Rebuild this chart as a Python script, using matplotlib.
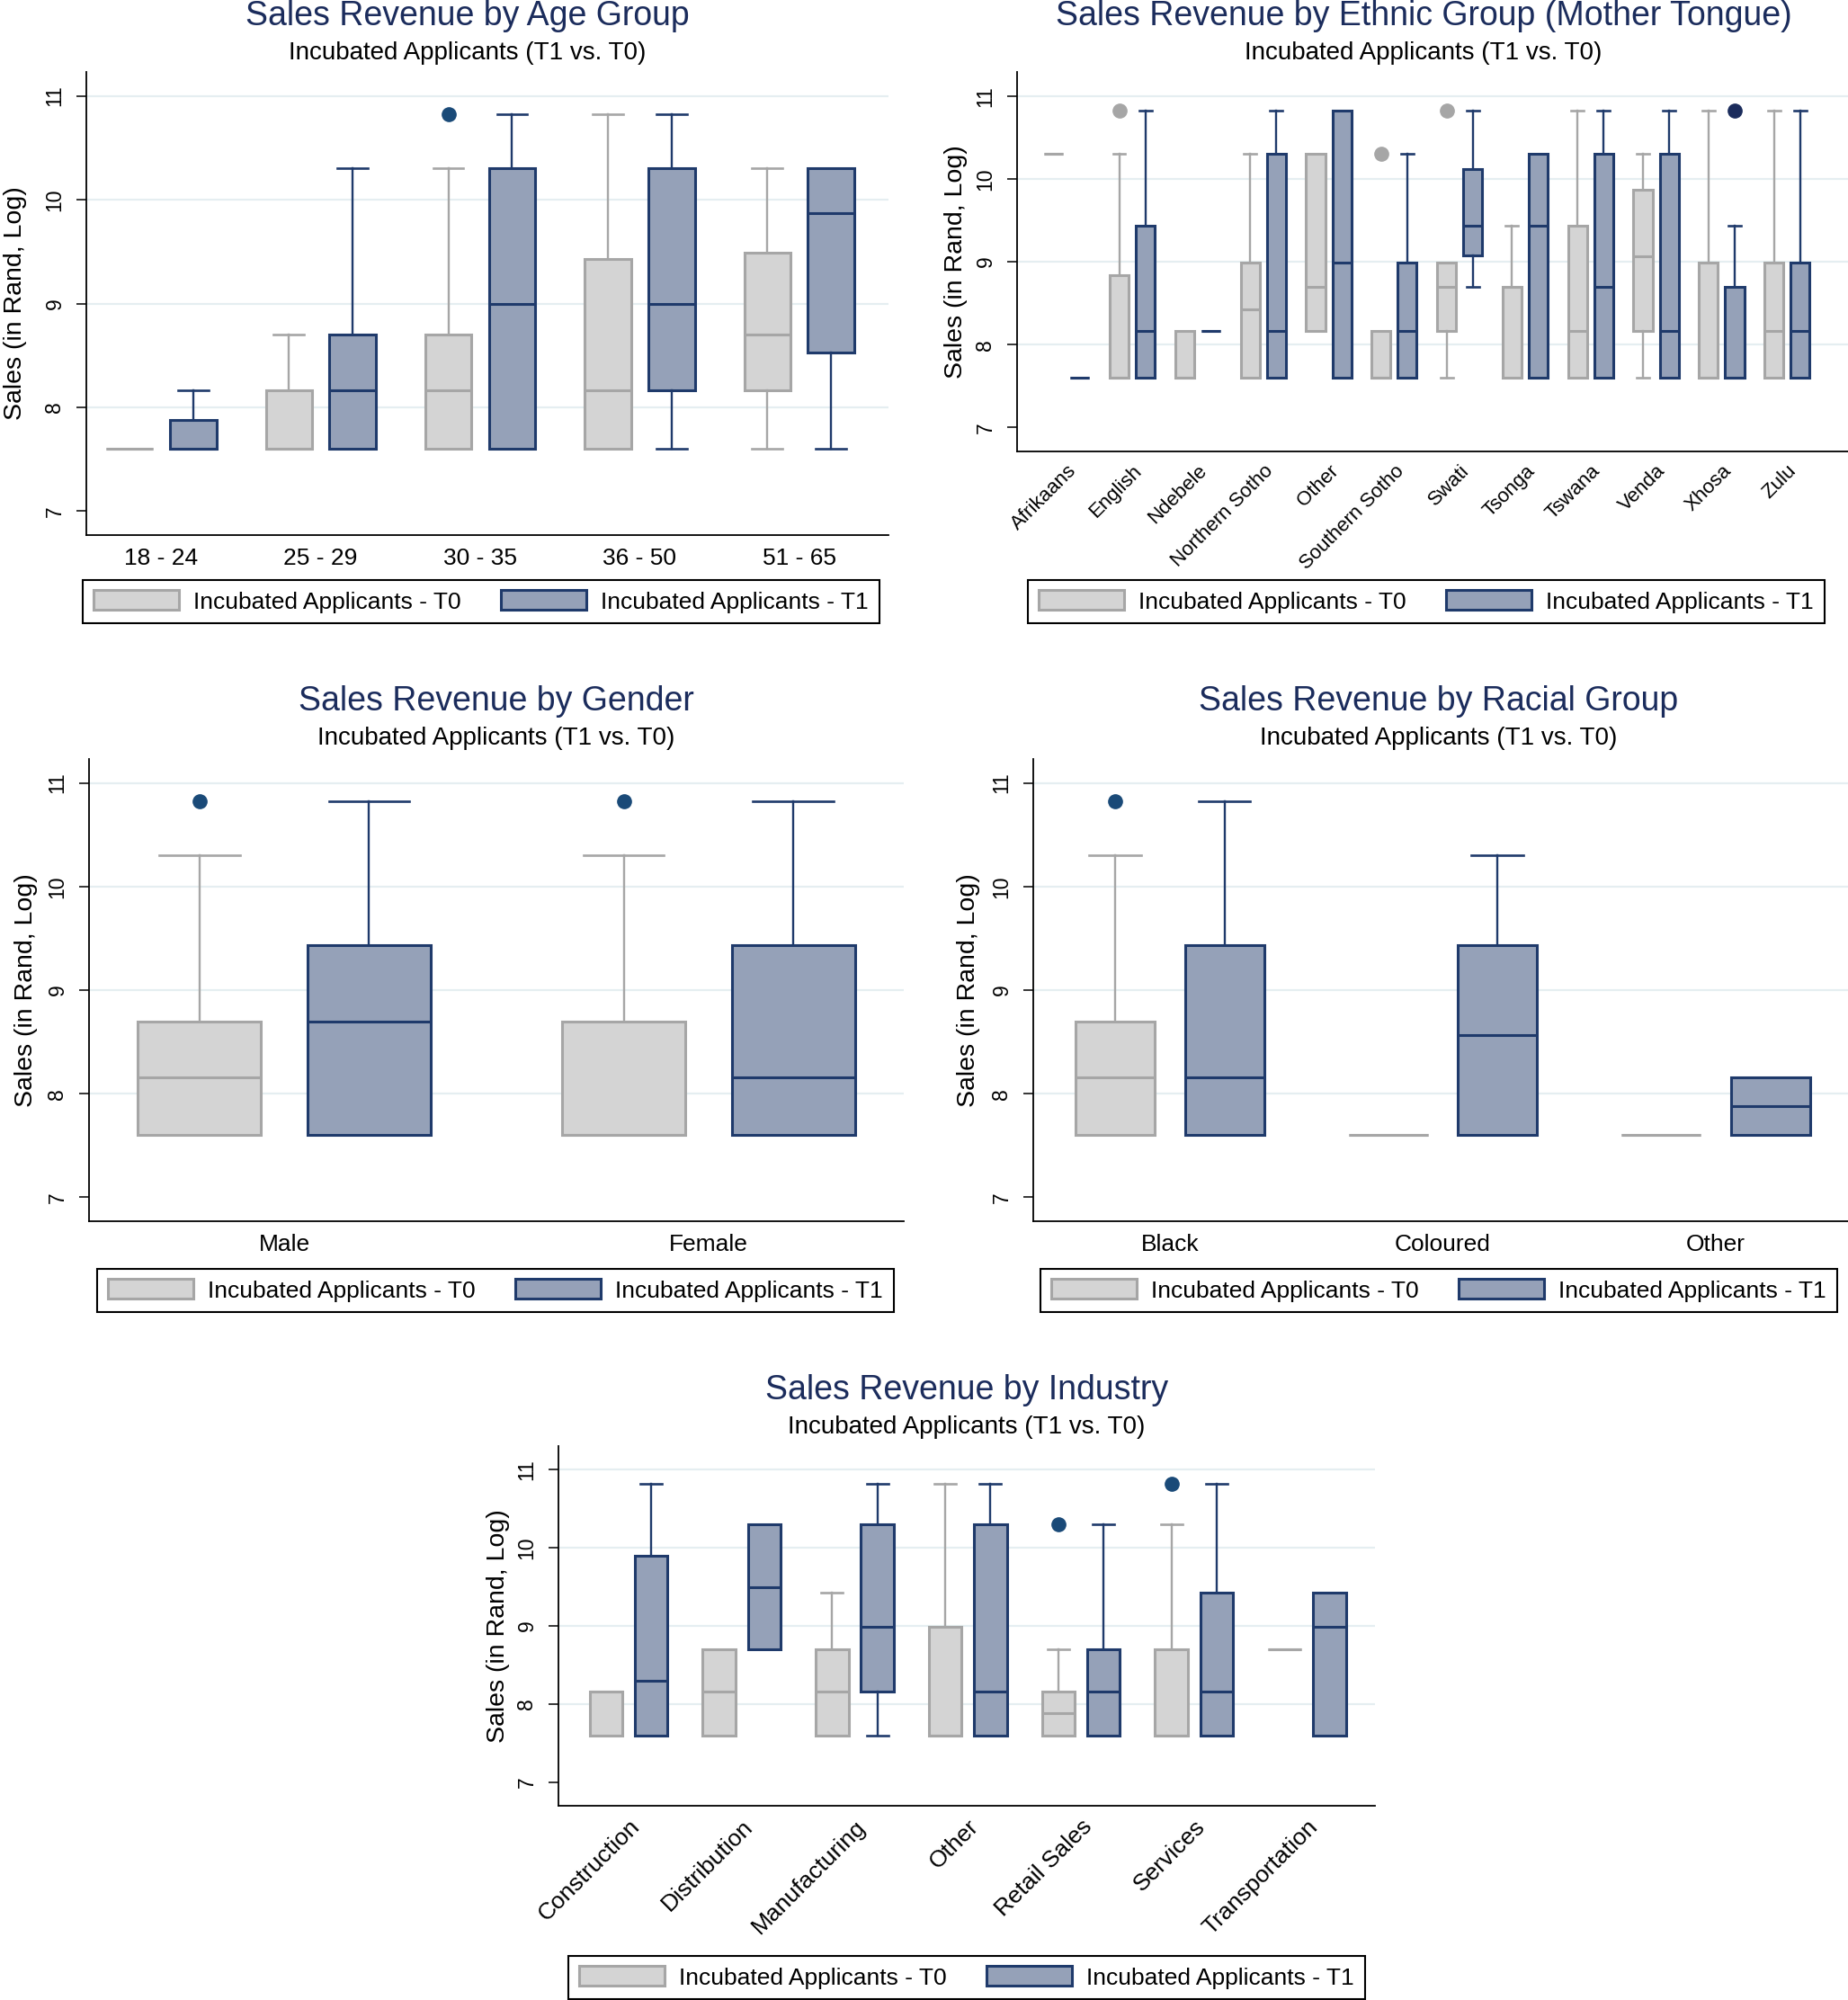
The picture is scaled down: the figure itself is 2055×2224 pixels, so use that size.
import matplotlib
matplotlib.use("Agg")
import matplotlib.pyplot as plt
from matplotlib import font_manager as fm
from matplotlib.patches import Patch
import numpy as np

W, H = 2055, 2224
_names = {f.name for f in fm.fontManager.ttflist}
NARROW = "Liberation Sans Narrow" if "Liberation Sans Narrow" in _names else "Liberation Sans"
REG = "Liberation Sans"

NAVY = "#1b2c5c"
T0_FC, T0_EC = "#d4d4d4", "#a6a6a6"
T1_FC, T1_EC = "#95a1b8", "#1f3a6b"
DOT = "#1a4a78"
GRID = "#e5eef1"
LEGEND_LABELS = ["Incubated Applicants - T0", "Incubated Applicants - T1"]
SUBTITLE = "Incubated Applicants (T1 vs. T0)"

# each tuple: (lower whisker, q1, median, q3, upper whisker)
AGE_GROUPS = ["18 - 24", "25 - 29", "30 - 35", "36 - 50", "51 - 65"]
AGE_T0 = [(7.6, 7.6, 7.6, 7.6, 7.6), (7.6, 7.6, 7.6, 8.16, 8.7), (7.6, 7.6, 8.16, 8.7, 10.3),
          (7.6, 7.6, 8.16, 9.43, 10.82), (7.6, 8.16, 8.7, 9.49, 10.3)]
AGE_T1 = [(7.6, 7.6, 7.6, 7.88, 8.16), (7.6, 7.6, 8.16, 8.7, 10.3), (7.6, 7.6, 9.0, 10.3, 10.82),
          (7.6, 8.16, 9.0, 10.3, 10.82), (7.6, 8.53, 9.87, 10.3, 10.3)]
AGE_T0_OUT = [[], [], [10.82], [], []]
AGE_T1_OUT = [[], [], [], [], []]

ETH_GROUPS = ["Afrikaans", "English", "Ndebele", "Northern Sotho", "Other", "Southern Sotho",
              "Swati", "Tsonga", "Tswana", "Venda", "Xhosa", "Zulu"]
ETH_T0 = [(10.3, 10.3, 10.3, 10.3, 10.3), (7.6, 7.6, 7.6, 8.84, 10.3), (7.6, 7.6, 7.6, 8.16, 8.16),
          (7.6, 7.6, 8.43, 8.99, 10.3), (8.16, 8.16, 8.7, 10.3, 10.3), (7.6, 7.6, 7.6, 8.16, 8.16),
          (7.6, 8.16, 8.7, 8.99, 8.99), (7.6, 7.6, 8.7, 8.7, 9.43), (7.6, 7.6, 8.16, 9.43, 10.82),
          (7.6, 8.16, 9.07, 9.87, 10.3), (7.6, 7.6, 7.6, 8.99, 10.82), (7.6, 7.6, 8.16, 8.99, 10.82)]
ETH_T1 = [(7.6, 7.6, 7.6, 7.6, 7.6), (7.6, 7.6, 8.16, 9.43, 10.82), (8.16, 8.16, 8.16, 8.16, 8.16),
          (7.6, 7.6, 8.16, 10.3, 10.82), (7.6, 7.6, 8.99, 10.82, 10.82), (7.6, 7.6, 8.16, 8.99, 10.3),
          (8.7, 9.08, 9.43, 10.12, 10.82), (7.6, 7.6, 9.43, 10.3, 10.3), (7.6, 7.6, 8.7, 10.3, 10.82),
          (7.6, 7.6, 8.16, 10.3, 10.82), (7.6, 7.6, 7.6, 8.7, 9.43), (7.6, 7.6, 8.16, 8.99, 10.82)]
ETH_T0_OUT = [[], [10.82], [], [], [], [10.3], [10.82], [], [], [], [], []]
ETH_T1_OUT = [[], [], [], [], [], [], [], [], [], [], [10.82], []]

GEN_GROUPS = ["Male", "Female"]
GEN_T0 = [(7.6, 7.6, 8.16, 8.7, 10.3), (7.6, 7.6, 7.6, 8.7, 10.3)]
GEN_T1 = [(7.6, 7.6, 8.7, 9.43, 10.82), (7.6, 7.6, 8.16, 9.43, 10.82)]
GEN_T0_OUT = [[10.82], [10.82]]
GEN_T1_OUT = [[], []]

RACE_GROUPS = ["Black", "Coloured", "Other"]
RACE_T0 = [(7.6, 7.6, 8.16, 8.7, 10.3), (7.6, 7.6, 7.6, 7.6, 7.6), (7.6, 7.6, 7.6, 7.6, 7.6)]
RACE_T1 = [(7.6, 7.6, 8.16, 9.43, 10.82), (7.6, 7.6, 8.57, 9.43, 10.3), (7.6, 7.6, 7.88, 8.16, 8.16)]
RACE_T0_OUT = [[10.82], [], []]
RACE_T1_OUT = [[], [], []]

IND_GROUPS = ["Construction", "Distribution", "Manufacturing", "Other", "Retail Sales",
              "Services", "Transportation"]
IND_T0 = [(7.6, 7.6, 8.16, 8.16, 8.16), (7.6, 7.6, 8.16, 8.7, 8.7), (7.6, 7.6, 8.16, 8.7, 9.43),
          (7.6, 7.6, 7.6, 8.99, 10.82), (7.6, 7.6, 7.88, 8.16, 8.7), (7.6, 7.6, 7.6, 8.7, 10.3),
          (8.7, 8.7, 8.7, 8.7, 8.7)]
IND_T1 = [(7.6, 7.6, 8.3, 9.9, 10.82), (8.7, 8.7, 9.5, 10.3, 10.3), (7.6, 8.16, 8.99, 10.3, 10.82),
          (7.6, 7.6, 8.16, 10.3, 10.82), (7.6, 7.6, 8.16, 8.7, 10.3), (7.6, 7.6, 8.16, 9.43, 10.82),
          (7.6, 7.6, 8.99, 9.43, 9.43)]
IND_T0_OUT = [[], [], [], [], [10.3], [10.82], []]
IND_T1_OUT = [[], [], [], [], [], [], []]

fig = plt.figure(figsize=(W / 100, H / 100), dpi=100)


def px_rect(l, t, r, b):
    return [l / W, 1 - b / H, (r - l) / W, (b - t) / H]


def draw_series(ax, stats, outs, positions, fc, ec, dot):
    rows = [dict(whislo=s[0], q1=s[1], med=s[2], q3=s[3], whishi=s[4], fliers=o)
            for s, o in zip(stats, outs)]
    ax.bxp(rows, positions=positions, widths=0.29, capwidths=0.19, patch_artist=True,
           manage_ticks=False,
           boxprops=dict(facecolor=fc, edgecolor=ec, linewidth=2.2),
           medianprops=dict(color=ec, linewidth=2.2),
           whiskerprops=dict(color=ec, linewidth=1.7),
           capprops=dict(color=ec, linewidth=1.9),
           flierprops=dict(marker="o", markerfacecolor=dot, markeredgecolor=dot, markersize=11))


def panel(rect, cats, t0, t1, out0, out1, xlim, ylim, title, title_xy, legend_xy,
          ylab_x, rot=0, xfs=19, dot0=DOT, dot1=DOT):
    ax = fig.add_axes(px_rect(*rect))
    pos = np.arange(len(cats))
    draw_series(ax, t0, out0, pos - 0.2, T0_FC, T0_EC, dot0)
    draw_series(ax, t1, out1, pos + 0.2, T1_FC, T1_EC, dot1)
    ax.set_xlim(*xlim)
    ax.set_ylim(*ylim)
    ax.set_yticks([7, 8, 9, 10, 11])
    ax.yaxis.grid(True, color=GRID, linewidth=1.6)
    ax.get_ygridlines()[0].set_visible(False)
    ax.set_axisbelow(True)
    for s in ("top", "right"):
        ax.spines[s].set_visible(False)
    for s in ("left", "bottom"):
        ax.spines[s].set_linewidth(1.3)
    ax.tick_params(axis="y", length=8, width=1.1, pad=9, labelsize=16.5, labelrotation=90)
    for lab in ax.get_yticklabels():
        lab.set_family(REG)
        lab.set_va("center")
    ax.set_xticks(pos)
    if rot:
        ax.set_xticklabels(cats, rotation=rot, ha="right", va="top", rotation_mode="anchor",
                           family=NARROW, fontsize=xfs)
        ax.tick_params(axis="x", length=0, pad=8)
    else:
        ax.set_xticklabels(cats, family=NARROW, fontsize=xfs)
        ax.tick_params(axis="x", length=0, pad=10)
    ax.set_ylabel("Sales (in Rand, Log)", family=REG, fontsize=20.5)
    ax.yaxis.set_label_coords(ylab_x, 0.5)
    fig.text(title_xy[0] / W, 1 - title_xy[1] / H, title, ha="center", va="center",
             family=NARROW, fontsize=27, color=NAVY)
    fig.text(title_xy[0] / W, 1 - (title_xy[1] + 41) / H, SUBTITLE, ha="center", va="center",
             family=NARROW, fontsize=20, color="black")
    handles = [Patch(facecolor=T0_FC, edgecolor=T0_EC, linewidth=2.2),
               Patch(facecolor=T1_FC, edgecolor=T1_EC, linewidth=2.2)]
    leg = ax.legend(handles, LEGEND_LABELS, loc="center", ncol=2,
                    bbox_to_anchor=(legend_xy[0] / W, 1 - legend_xy[1] / H),
                    bbox_transform=fig.transFigure, frameon=True, fancybox=False,
                    edgecolor="black", framealpha=1, handlelength=3.6, handleheight=0.9,
                    handletextpad=0.6, columnspacing=1.7, borderpad=0.45,
                    prop=dict(family=NARROW, size=19))
    leg.get_frame().set_linewidth(1.5)
    return ax


panel((96, 80, 988, 595), AGE_GROUPS, AGE_T0, AGE_T1, AGE_T0_OUT, AGE_T1_OUT,
      (-0.47, 4.56), (6.77, 11.23), "Sales Revenue by Age Group", (520, 18), (535, 669), -0.074)
panel((1131, 80, 2060, 502), ETH_GROUPS, ETH_T0, ETH_T1, ETH_T0_OUT, ETH_T1_OUT,
      (-0.76, 12.0), (6.71, 11.29), "Sales Revenue by Ethnic Group (Mother Tongue)", (1583, 18),
      (1586, 669), -0.059, rot=45, xfs=16, dot0=T0_EC, dot1=NAVY)
panel((99, 844, 1005, 1358), GEN_GROUPS, GEN_T0, GEN_T1, GEN_T0_OUT, GEN_T1_OUT,
      (-0.46, 1.46), (6.77, 11.23), "Sales Revenue by Gender", (552, 780), (551, 1435), -0.063)
panel((1149, 844, 2060, 1358), RACE_GROUPS, RACE_T0, RACE_T1, RACE_T0_OUT, RACE_T1_OUT,
      (-0.5, 2.5), (6.77, 11.23), "Sales Revenue by Racial Group", (1600, 780), (1600, 1435), -0.065)
panel((621, 1608, 1529, 2008), IND_GROUPS, IND_T0, IND_T1, IND_T0_OUT, IND_T1_OUT,
      (-0.62, 6.6), (6.7, 11.3), "Sales Revenue by Industry", (1075, 1546), (1075, 2199), -0.059,
      rot=45, xfs=19)

fig.savefig("out.png", dpi=100, facecolor="white")
